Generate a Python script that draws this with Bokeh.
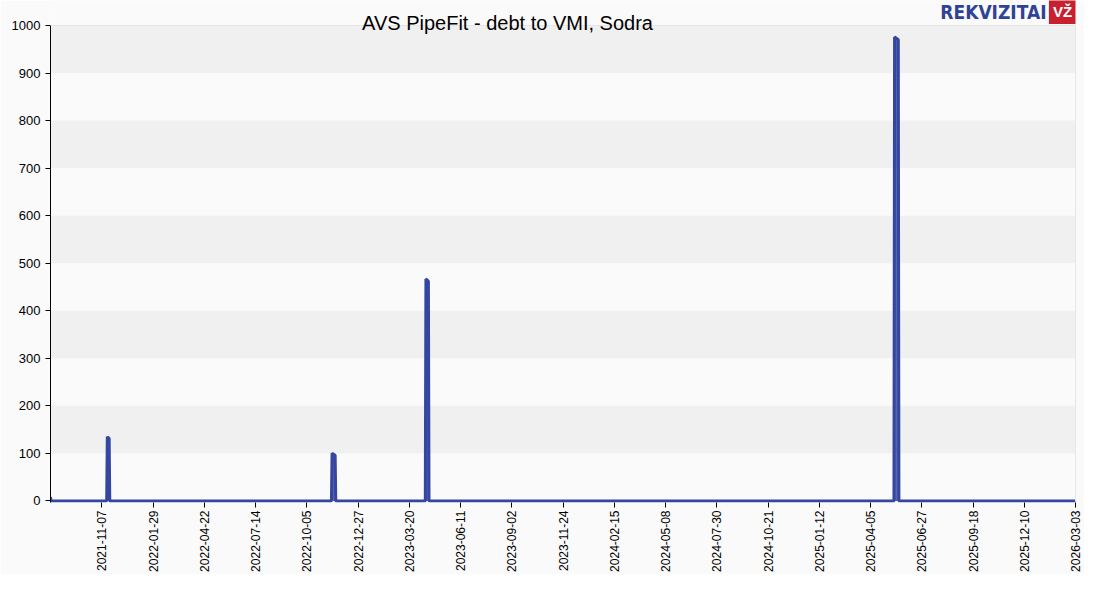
import pandas as pd
from bokeh.plotting import figure
from bokeh.models import (Range1d, FixedTicker, DatetimeTickFormatter, Label,
                          ColumnDataSource, LinearAxis, Span)
from bokeh.embed import file_html
from bokeh.resources import INLINE
from math import pi

title = "AVS PipeFit - debt to VMI, Sodra"
logo_text = "REKVIZITAI"
logo_badge = "VŽ"

dates = ["2021-08-16", "2021-08-17",
         "2021-11-15", "2021-11-16", "2021-11-19", "2021-11-20",
         "2022-11-14", "2022-11-15", "2022-11-20", "2022-11-21",
         "2023-04-15", "2023-04-16", "2023-04-20", "2023-04-21",
         "2025-05-13", "2025-05-14", "2025-05-20", "2025-05-21",
         "2026-03-03"]
values = [8, 0,
          0, 135, 131, 0,
          0, 100, 96, 0,
          0, 467, 462, 0,
          0, 976, 970, 0,
          0]

tick_labels = ["2021-11-07", "2022-01-29", "2022-04-22", "2022-07-14", "2022-10-05",
               "2022-12-27", "2023-03-20", "2023-06-11", "2023-09-02", "2023-11-24",
               "2024-02-15", "2024-05-08", "2024-07-30", "2024-10-21", "2025-01-12",
               "2025-04-05", "2025-06-27", "2025-09-18", "2025-12-10", "2026-03-03"]
y_ticks = [0, 100, 200, 300, 400, 500, 600, 700, 800, 900, 1000]

x_start = pd.Timestamp("2021-08-16")
x_end = pd.Timestamp("2026-03-03")
y_max = 1000

# layout constants (pixels)
W, H = 1084, 574
LEFT, RIGHT = 50, 1075
TOP_PX_OF_MAX = 25
EXPECTED_BOTTOM = 502
BOTTOM_PAD_PX = 1.6
px_per_unit = (EXPECTED_BOTTOM - BOTTOM_PAD_PX - TOP_PX_OF_MAX) / y_max
y_top = y_max + TOP_PX_OF_MAX / px_per_unit
y_bottom = -BOTTOM_PAD_PX / px_per_unit


def x_at(px):
    return x_start + (x_end - x_start) * ((px - LEFT) / (RIGHT - LEFT))


def y_at(py):
    return y_max + (TOP_PX_OF_MAX - py) / px_per_unit


src = ColumnDataSource(dict(x=pd.to_datetime(dates), y=values, y0=[0] * len(values)))

p = figure(width=W, height=H, x_axis_type="datetime",
           x_range=Range1d(x_start, x_end),
           y_range=Range1d(y_bottom, y_top),
           output_backend="svg", toolbar_location=None,
           min_border_left=LEFT, min_border_right=W - RIGHT, min_border_top=0,
           min_border_bottom=40)

p.background_fill_color = "#fafafa"
p.border_fill_color = "#fafafa"
p.outline_line_color = None

p.ygrid.grid_line_color = None
p.xgrid.grid_line_color = None
p.ygrid.band_fill_color = "#f0f0f0"
p.ygrid.band_fill_alpha = 1.0
# keep alternate bands aligned so that 100-200, 300-400, ... are shaded
p.ygrid.ticker = FixedTicker(ticks=[y_bottom, y_bottom / 2] + y_ticks)

p.add_layout(Span(location=y_max, dimension="width", line_color="#e6e6e6", line_width=1))

p.varea(x="x", y1="y0", y2="y", source=src, fill_color="#3a4ca0", fill_alpha=0.85)
p.line(x="x", y="y", source=src, line_color="#3446a0", line_width=3)

p.xaxis.ticker = FixedTicker(ticks=[pd.Timestamp(t).value / 1e6 for t in tick_labels])
fmt = "%Y-%m-%d"
p.xaxis.formatter = DatetimeTickFormatter(days=fmt, months=fmt, years=fmt, hours=fmt,
                                          minutes=fmt, seconds=fmt, milliseconds=fmt,
                                          microseconds=fmt, hourmin=fmt, minsec=fmt)
p.xaxis.major_label_orientation = pi / 2
p.yaxis.ticker = FixedTicker(ticks=y_ticks)
p.yaxis.bounds = (y_bottom, y_max)

for ax in (p.xaxis, p.yaxis):
    ax.axis_line_color = "black"
    ax.major_tick_line_color = "black"
    ax.minor_tick_line_color = None
    ax.major_tick_out = 5
    ax.major_tick_in = 0
    ax.major_label_text_font = "Liberation Sans"
    ax.major_label_text_color = "black"
p.xaxis.axis_line_color = None
p.xaxis.major_label_text_font_size = "12px"
p.xaxis.major_label_standoff = 3
p.yaxis.major_label_text_font_size = "13px"
p.yaxis.major_label_standoff = 5

right_ax = LinearAxis(bounds=(0, y_max), ticker=FixedTicker(ticks=[]),
                      major_label_text_font_size="0px", axis_line_color="#e6e6e6",
                      major_tick_line_color=None, minor_tick_line_color=None)
p.add_layout(right_ax, "right")

p.add_layout(Label(x=x_at(507), y=y_at(22), text=title,
                   text_font="Liberation Sans", text_font_size="20px", text_color="black",
                   text_align="center", text_baseline="middle"))
p.add_layout(Label(x=x_at(1046), y=y_at(11), text=logo_text,
                   text_font="DejaVu Sans Condensed", text_font_style="bold",
                   text_font_size="19px", text_color="#2f4396",
                   text_align="right", text_baseline="middle"))
p.add_layout(Label(x=x_at(1062), y=y_at(11), text=logo_badge,
                   text_font="Liberation Sans", text_font_style="bold",
                   text_font_size="15px", text_color="white",
                   background_fill_color="#c8202f", padding=4,
                   text_align="center", text_baseline="middle"))

open("out.html", "w").write(file_html(p, INLINE))
